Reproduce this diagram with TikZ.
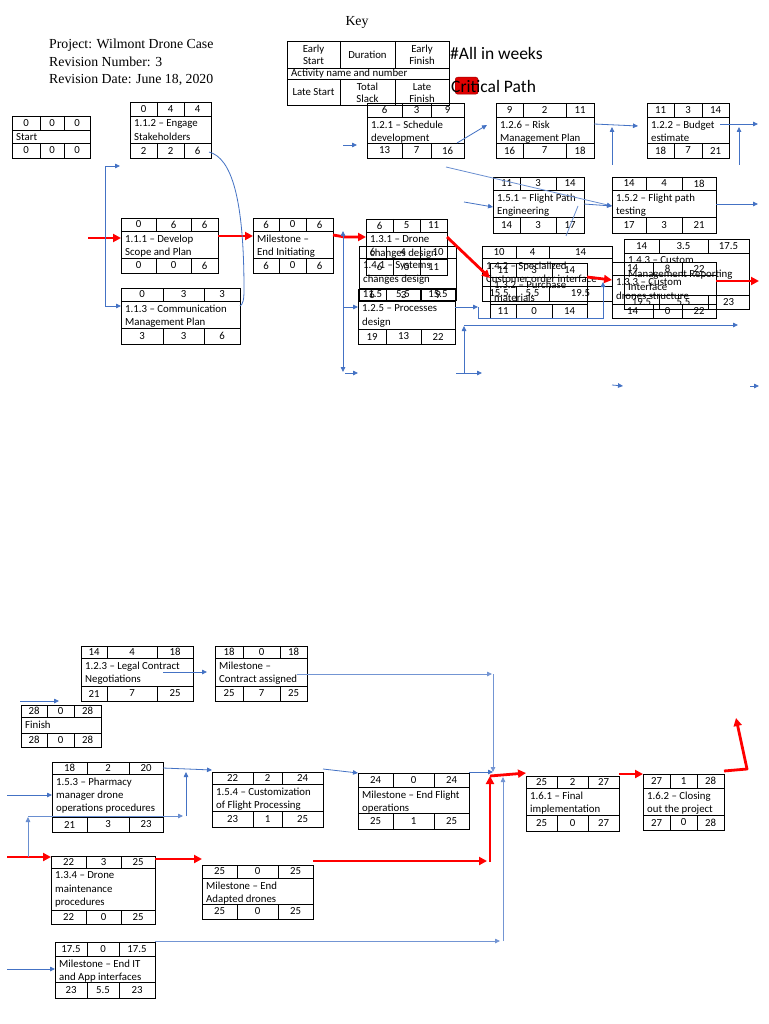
\documentclass[tikz,border=0pt]{standalone}
\usepackage{fontspec}
\setmainfont{Liberation Serif}
\newfontfamily\calf{Carlito}
\usetikzlibrary{arrows.meta,calc}
\definecolor{blueC}{HTML}{4472C4}
\definecolor{redC}{HTML}{FF0000}
\tikzset{
 boxfr/.style={draw=black, line width=0.8pt, inner sep=0pt, outer sep=0pt},
 cell/.style={draw=black, line width=0.8pt},
 num/.style={font=\calf\fontsize{10.8}{12}\selectfont, inner sep=0pt},
 nm/.style={font=\calf\fontsize{10.8}{13.3}\selectfont, inner sep=0pt, anchor=north west, align=left},
 keyt/.style={font=\calf\fontsize{10.8}{12.5}\selectfont, inner sep=0pt, align=center},
 hdr/.style={font=\fontsize{13.8}{16}\selectfont, inner sep=0pt},
 big/.style={font=\calf\fontsize{17.5}{20}\selectfont, inner sep=0pt},
 bl/.style={draw=blueC, line width=0.8pt, -{Triangle[length=5pt,width=4.5pt]}},
 blp/.style={draw=blueC, line width=0.8pt},
 rd/.style={draw=redC, line width=2.8pt, line join=round, -{Triangle[length=8pt,width=8pt]}},
}
\newcommand\PB[9]{%
 \node[boxfr, minimum width={(#4-#2)*1pt}, minimum height={(#5-#3)*1pt}, anchor=north west] (#1) at (#2,#3) {};
 \draw[cell] (#2,#6) -- (#4,#6) (#2,#7) -- (#4,#7) (#8,#3) -- (#8,#6) (#9,#3) -- (#9,#6) (#8,#7) -- (#8,#5) (#9,#7) -- (#9,#5);
 \gdef\Bn{#1}\gdef\Bxa{#2}\gdef\Bya{#3}\gdef\Bxb{#4}\gdef\Byb{#5}\gdef\Byc{#6}\gdef\Byd{#7}\gdef\Bca{#8}\gdef\Bcb{#9}%
}
\newcommand\PT[7]{%
 \node[num] (\Bn-a) at ({(\Bxa+\Bca)/2},{(\Bya+\Byc)/2}) {#1};
 \node[num] (\Bn-b) at ({(\Bca+\Bcb)/2},{(\Bya+\Byc)/2}) {#2};
 \node[num] (\Bn-c) at ({(\Bcb+\Bxb)/2},{(\Bya+\Byc)/2}) {#3};
 \node[nm] (\Bn-n) at (\Bxa+4,\Byc+3.5) {#4};
 \node[num] (\Bn-d) at ({(\Bxa+\Bca)/2},{(\Byd+\Byb)/2}) {#5};
 \node[num] (\Bn-e) at ({(\Bca+\Bcb)/2},{(\Byd+\Byb)/2}) {#6};
 \node[num] (\Bn-f) at ({(\Bcb+\Bxb)/2},{(\Byd+\Byb)/2}) {#7};
}
\begin{document}
\begin{tikzpicture}[x=1pt,y=-1pt]
\path[fill=white, use as bounding box] (0,0) rectangle (768,1024);

% header
\node[hdr] (keyt) at (357,22) {Key};
\node[hdr, anchor=west] (proj) at (49,45) {Project: Wilmont Drone Case};
\node[hdr, anchor=west] (revn) at (49,62) {Revision Number: 3};
\node[hdr, anchor=west] (revd) at (49,80) {Revision Date: June 18, 2020};
\node[big, anchor=west] (allw) at (450,53) {\#All in weeks};
\node[fill=red!88!black, draw=red!60!black, line width=0.4pt, rounded corners=2.5pt, minimum width=23pt, minimum height=17pt, inner sep=0pt, anchor=north west] (cpbox) at (455,77) {};
\node[big, anchor=west] (cpt) at (451,86) {Critical Path};

% key table
\PB{key}{287}{41}{449}{105}{68}{79}{340}{395}
\node[keyt] (k1) at (313.5,55) {Early\\Start};
\node[keyt] (k2) at (367.5,55) {Duration};
\node[keyt] (k3) at (422,55) {Early\\Finish};
\node[nm, anchor=west] (k4) at (291,73.5) {Activity name and number};
\node[keyt] (k5) at (313.5,92) {Late Start};
\node[keyt] (k6) at (367.5,93) {Total\\Slack};
\node[keyt] (k7) at (422,93) {Late\\Finish};

% top boxes
\PB{st}{12}{116}{90}{158}{130}{143}{40}{64}
\PT{0}{0}{0}{Start}{0}{0}{0}
\PB{n112}{130}{102}{211}{158}{116}{143}{157}{184}
\PT{0}{4}{4}{1.1.2 – Engage\\Stakeholders}{2}{2}{6}
\PB{n121}{367}{103}{464}{158}{117}{143}{402}{431}
\PT{6}{3}{9}{1.2.1 – Schedule\\development}{13}{7}{16}
\PB{n126}{496}{103}{594}{158}{117}{143}{523}{566}
\PT{9}{2}{11}{1.2.6 – Risk\\Management Plan}{16}{7}{18}
\PB{n122}{647}{103}{729}{158}{117}{143}{674}{702}
\PT{11}{3}{14}{1.2.2 – Budget\\estimate}{18}{7}{21}
\PB{n151}{493}{177}{584}{233}{190}{217}{520}{556}
\PT{11}{3}{14}{1.5.1 – Flight Path\\Engineering}{14}{3}{17}
\PB{n152}{612}{177}{716}{233}{190}{217}{646}{682}
\PT{14}{4}{18}{1.5.2 – Flight path\\testing}{17}{3}{21}
\PB{n111}{121}{218}{218}{273}{231}{258}{156}{191}
\PT{0}{6}{6}{1.1.1 – Develop\\Scope and Plan}{0}{0}{6}
\PB{mei}{253}{218}{333}{273}{231}{258}{279}{306}
\PT{6}{0}{6}{Milestone –\\End Initiating}{6}{0}{6}
\PB{n113}{121}{288}{240}{344}{301}{328}{163}{204}
\PT{0}{3}{3}{1.1.3 – Communication\\Management Plan}{3}{3}{6}
\PB{n131}{366}{219}{447}{275}{232}{259}{393}{420}
\PT{6}{5}{11}{1.3.1 – Drone\\changes design}{6}{0}{11}
\PB{n141}{359}{246}{456}{300}{258}{288}{386}{420}
\PT{6}{4}{10}{1.4.1 – Systems\\changes design}{11.5}{5.5}{15.5}
\PB{n125}{358}{289}{455}{344}{301}{329}{386}{421}
\PT{6}{3}{9}{1.2.5 – Processes\\design}{19}{13}{22}
\PB{n142}{482}{246}{612}{301}{258}{286}{516}{549}
\PT{10}{4}{14}{1.4.2 – Specialized\\Customer order interface}{15.5}{5.5}{19.5}
\PB{n132}{490}{263}{587}{318}{277}{304}{516}{552}
\PT{11}{3}{14}{1.3.2 – Purchase\\materials}{11}{0}{14}
\PB{n143}{624}{239}{749}{309}{253}{295}{659}{708}
\PT{14}{3.5}{17.5}{1.4.3 – Custom\\Management Reporting\\Interface}{19.5}{5.5}{23}
\PB{n133}{612}{262}{716}{318}{275}{304}{653}{682}
\PT{14}{8}{22}{1.3.3 – Custom\\drones structure}{14}{0}{22}

% bottom boxes
\PB{n123}{81}{646}{193}{701}{658}{686}{107}{157}
\PT{14}{4}{18}{1.2.3 – Legal Contract\\Negotiations}{21}{7}{25}
\PB{mca}{215}{646}{307}{701}{658}{686}{243}{280}
\PT{18}{0}{18}{Milestone –\\Contract assigned}{25}{7}{25}
\PB{fin}{21}{705}{101}{747}{717}{733}{47}{74}
\PT{28}{0}{28}{Finish}{28}{0}{28}
\PB{n153}{52}{762}{163}{832}{774}{817}{87}{129}
\PT{18}{2}{20}{1.5.3 – Pharmacy\\manager drone\\operations procedures}{21}{3}{23}
\PB{n154}{212}{772}{323}{827}{784}{811}{253}{282}
\PT{22}{2}{24}{1.5.4 – Customization\\of Flight Processing}{23}{1}{25}
\PB{mef}{358}{773}{469}{829}{787}{813}{393}{434}
\PT{24}{0}{24}{Milestone – End Flight\\operations}{25}{1}{25}
\PB{n134}{51}{856}{155}{924}{868}{910}{86}{121}
\PT{22}{3}{25}{1.3.4 – Drone\\maintenance\\procedures}{22}{0}{25}
\PB{mea}{202}{865}{313}{919}{878}{904}{237}{278}
\PT{25}{0}{25}{Milestone – End\\Adapted drones}{25}{0}{25}
\PB{meit}{55}{942}{155}{998}{956}{982}{87}{119}
\PT{17.5}{0}{17.5}{Milestone – End IT\\and App interfaces}{23}{5.5}{23}
\PB{n161}{526}{776}{619}{831}{788}{815}{557}{588}
\PT{25}{2}{27}{1.6.1 – Final\\implementation}{25}{0}{27}
\PB{n162}{643}{774}{724}{830}{788}{815}{670}{697}
\PT{27}{1}{28}{1.6.2 – Closing\\out the project}{27}{0}{28}

% free-end coordinates
\coordinate (r1) at (88,238);
\coordinate (r2) at (345,237);
\coordinate (r3) at (759,281);
\coordinate (r4) at (7,857);
\coordinate (r5) at (487,861);
\coordinate (r6) at (490,862);
\coordinate (r7) at (490,776);
\coordinate (r8) at (747,769);
\coordinate (r9) at (736,718);

% red critical path
\draw[rd] (r1) -- (n111.west |- r1);
\draw[rd] (n111.east |- 0,236) -- (mei.west |- 0,236);
\draw[rd] (mei.east |- 0,235) -- (r2) -- (n131.west |- r2);
\draw[rd] (n131.east |- 0,237) -- (n132.west |- 0,278);
\draw[rd] (n132.east |- 0,277) -- (n133.west |- 0,280);
\draw[rd] (n133.east |- r3) -- (r3);
\draw[rd] (r4) -- (n134.west |- r4);
\draw[rd] (n134.east |- 0,859) -- (mea.west |- 0,859);
\draw[rd] (mea.east |- r5) -- (r5);
\draw[rd] (r6) -- (r7);
\draw[rd] (r7) -- (n161.west |- 0,773);
\draw[rd] (n161.east |- 0,774) -- (n162.west |- 0,774);
\draw[rd] (n162.east |- 0,771) -- (r8) -- (r9);

% blue connectors, top
\coordinate (b1) at (105,306);
\coordinate (b2) at (105,166);
\coordinate (b3) at (120,166);
\draw[bl] (b1) -- (b2) -- (b3);
\draw[bl] (b1) -- (n113.west |- b1);
\draw[blp] (209,152) .. controls (232,158) and (244,200) .. (244,290) .. controls (244,300) and (243,304) .. (n113.east |- 0,306);
\coordinate (b4) at (343,145);
\coordinate (b5) at (357,145);
\draw[bl] (b4) -- (b5);
\coordinate (b6) at (487,125);
\draw[bl] (457,143) -- (b6);
\coordinate (b7) at (638,126);
\draw[bl] (n126.east |- 0,124) -- (b7);
\coordinate (b8) at (612,165);
\coordinate (b9) at (612,127);
\draw[bl] (b8) -- (b9);
\coordinate (b10) at (758,124);
\draw[bl] (720,124) -- (b10);
\coordinate (b11) at (739,165);
\coordinate (b12) at (739,127);
\draw[bl] (b11) -- (b12);
\coordinate (b13) at (446,167);
\draw[bl, draw=blueC!80] (b13) -- (n152.west |- 0,206);
\coordinate (b14) at (464,202);
\draw[bl] (b14) -- (n151.west |- 0,207);
\draw[bl] (n151.east |- 0,204) -- (n152.west |- 0,206);
\coordinate (b15) at (578,206);
\coordinate (b16) at (566,236);
\draw[blp, draw=blueC!80] (b15) -- (b16);
\coordinate (b17) at (758,204);
\draw[bl] (n152.east |- b17) -- (b17);
\coordinate (b18) at (343,231);
\coordinate (b19) at (343,372);
\draw[bl, {Triangle[length=5pt,width=4.5pt]}-{Triangle[length=5pt,width=4.5pt]}] (b19) -- (b18);
\coordinate (b20) at (345,373);
\coordinate (b21) at (358,373);
\draw[bl] (b20) -- (b21);
\coordinate (b22) at (343,307);
\draw[bl] (b22) -- (n125.west |- b22);
\coordinate (b23) at (478,307);
\draw[bl] (n125.east |- b23) -- (b23);
\coordinate (b24) at (478,318);
\coordinate (b25) at (603,318);
\coordinate (b26) at (603,282);
\draw[bl] (b23) -- (b24) -- (b25) -- (b26);
\coordinate (b27) at (456,373);
\coordinate (b28) at (482,373);
\draw[bl] (b27) -- (b28);
\coordinate (b29) at (464,373);
\coordinate (b30) at (464,326);
\draw[bl] (b29) -- (b30);
\coordinate (b31) at (464,325);
\coordinate (b32) at (738,325);
\draw[bl] (b31) -- (b32);
\coordinate (b33) at (612,385);
\coordinate (b34) at (623,386);
\draw[bl] (b33) -- (b34);
\coordinate (b35) at (750,386);
\coordinate (b36) at (759,386);
\draw[bl] (b35) -- (b36);

% blue connectors, bottom
\coordinate (c1) at (20,701);
\coordinate (c2) at (59,701);
\draw[bl] (c1) -- (c2);
\coordinate (c3) at (163,672);
\coordinate (c4) at (207,672);
\draw[bl] (c3) -- (c4);
\coordinate (c5) at (297,674);
\coordinate (c6) at (492,674);
\coordinate (c7) at (493,674);
\coordinate (c8) at (493,772);
\draw[bl, draw=blueC!75] (c5) -- (c6);
\draw[bl, draw=blueC!75] (c7) -- (c8);
\coordinate (c9) at (7,795);
\draw[bl] (c9) -- (n153.west |- c9);
\coordinate (c10) at (28,857);
\coordinate (c11) at (28,817);
\draw[bl, draw=blueC!80] (c10) -- (c11);
\coordinate (c12) at (28,816);
\coordinate (c13) at (183,816);
\draw[bl, draw=blueC!80] (c12) -- (c13);
\coordinate (c14) at (186,816);
\coordinate (c15) at (186,772);
\draw[bl] (c14) -- (c15);
\draw[bl] (n153.east |- 0,768) -- (n154.west |- 0,770);
\draw[bl] (n154.east |- 0,769) -- (mef.west |- 0,773);
\coordinate (c16) at (493,772);
\draw[bl] (mef.east |- c16) -- (c16);
\coordinate (c17) at (7,969);
\draw[bl] (c17) -- (meit.west |- c17);
\coordinate (c18) at (500,941);
\draw[bl, draw=blueC!75] (meit.east |- c18) -- (c18);
\coordinate (c19) at (503,941);
\coordinate (c20) at (503,777);
\draw[bl, draw=blueC!75] (c19) -- (c20);
\end{tikzpicture}
\end{document}
